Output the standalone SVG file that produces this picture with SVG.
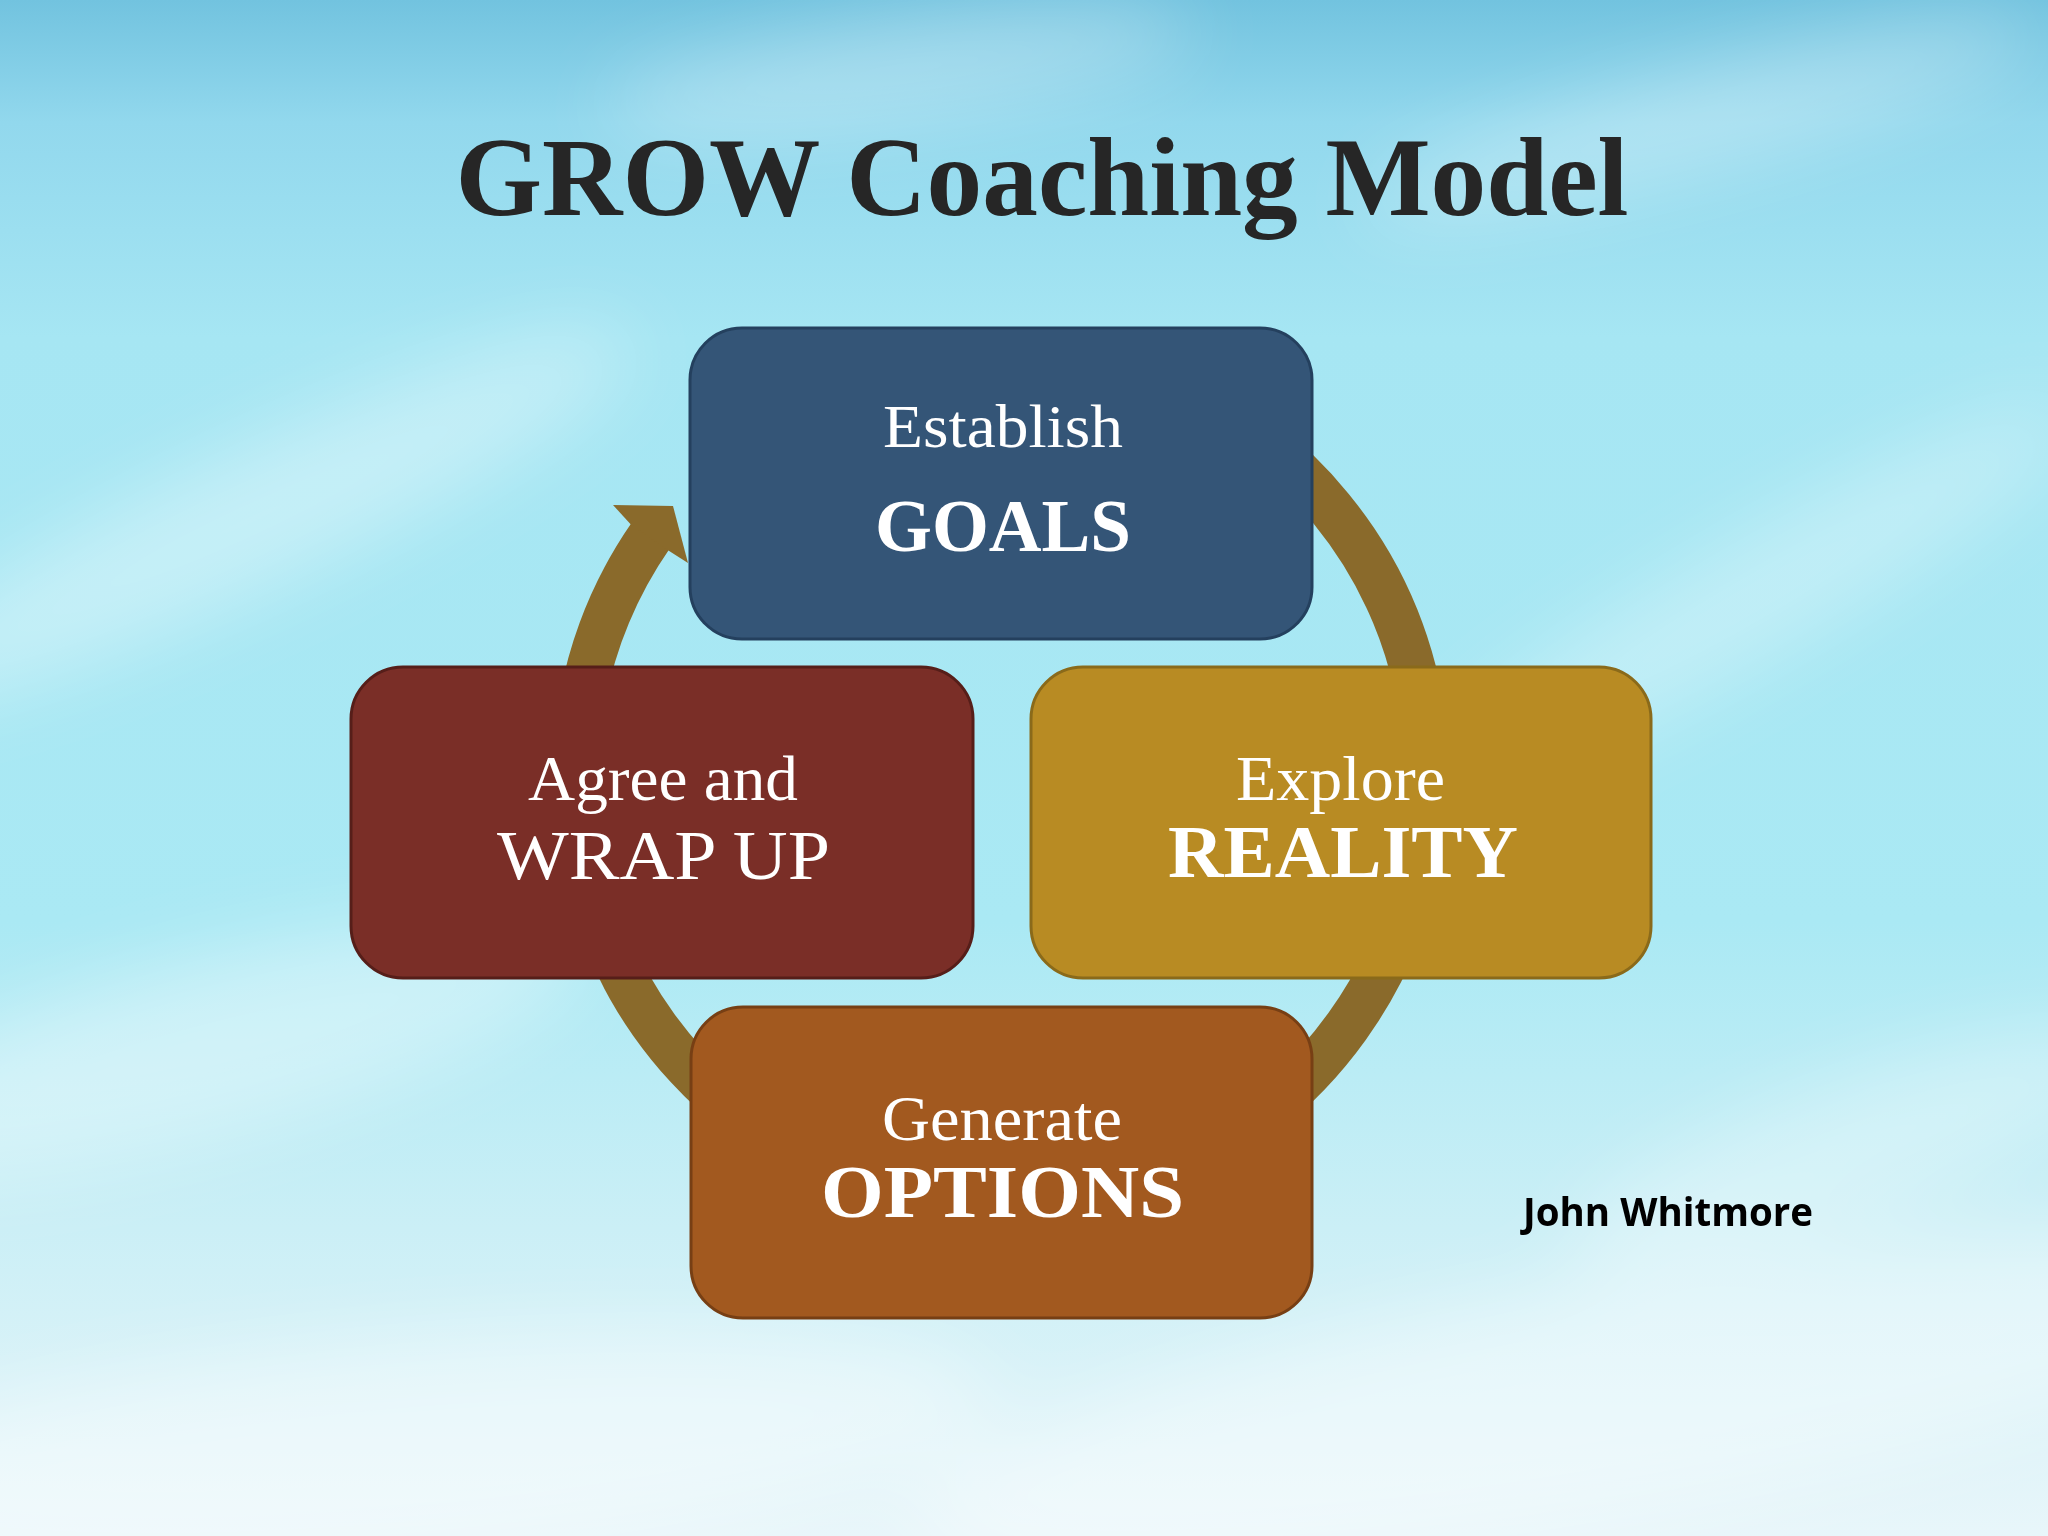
<svg xmlns="http://www.w3.org/2000/svg" width="2048" height="1536" viewBox="0 0 2048 1536">
  <defs>
    <linearGradient id="sky" x1="0" y1="0" x2="0" y2="1">
      <stop offset="0" stop-color="#72c3df"/>
      <stop offset="0.08" stop-color="#92d8ed"/>
      <stop offset="0.22" stop-color="#a6e6f3"/>
      <stop offset="0.6" stop-color="#aae9f4"/>
      <stop offset="0.8" stop-color="#cbeff6"/>
      <stop offset="1" stop-color="#e8f6fa"/>
    </linearGradient>
    <filter id="blur" x="-50%" y="-50%" width="200%" height="200%">
      <feGaussianBlur stdDeviation="40"/>
    </filter>
    <style>
      .box { stroke-width: 3; }
      .lbl { font-family: "Liberation Serif", "DejaVu Serif", serif; fill: #ffffff; text-anchor: middle; }
      .big { font-weight: bold; }
      .ring { fill: none; stroke: #8a6a2b; stroke-width: 46; }
      .head { fill: #8a6a2b; }
    </style>
  </defs>

  <!-- background -->
  <rect x="0" y="0" width="2048" height="1536" fill="url(#sky)"/>
  <g filter="url(#blur)" fill="#ffffff">
    <ellipse cx="900" cy="70" rx="300" ry="50" opacity="0.3" transform="rotate(-8 900 70)"/>
    <ellipse cx="1700" cy="120" rx="350" ry="50" opacity="0.3" transform="rotate(-15 1700 120)"/>
    <ellipse cx="250" cy="520" rx="420" ry="70" opacity="0.35" transform="rotate(-25 250 520)"/>
    <ellipse cx="1750" cy="600" rx="380" ry="60" opacity="0.3" transform="rotate(-30 1750 600)"/>
    <ellipse cx="200" cy="1050" rx="400" ry="90" opacity="0.35" transform="rotate(-15 200 1050)"/>
    <ellipse cx="1600" cy="1400" rx="700" ry="120" opacity="0.4" transform="rotate(-10 1600 1400)"/>
    <ellipse cx="400" cy="1450" rx="600" ry="110" opacity="0.4" transform="rotate(-5 400 1450)"/>
    <ellipse cx="1850" cy="1150" rx="300" ry="70" opacity="0.3" transform="rotate(-20 1850 1150)"/>
  </g>

  <!-- title -->
  <text id="title" x="1042" y="215" font-family="'Liberation Serif', 'DejaVu Serif', serif" font-size="113" font-weight="bold" fill="#262626" text-anchor="middle" textLength="1173" lengthAdjust="spacingAndGlyphs">GROW Coaching Model</text>

  <!-- connectors -->
  <g id="connectors">
    <path class="ring" d="M 1001 352 A 426 426 0 1 1 651.2 534.9"/>
    <polygon class="head" points="613,505 673,506 688,563 668.4,550.5 630.6,524.3"/>
  </g>

  <!-- nodes -->
  <g id="node-goals">
    <rect class="box" x="690" y="328" width="622" height="311" rx="52" ry="52" fill="#345577" stroke="#24405e"/>
    <text class="lbl" x="1003" y="447" font-size="62" textLength="240" lengthAdjust="spacingAndGlyphs">Establish</text>
    <text class="lbl big" x="1003" y="551" font-size="74" textLength="256" lengthAdjust="spacingAndGlyphs">GOALS</text>
  </g>

  <g id="node-wrapup">
    <rect class="box" x="351" y="667" width="622" height="311" rx="52" ry="52" fill="#7a2e27" stroke="#561e19"/>
    <text class="lbl" x="663" y="800" font-size="64" textLength="270" lengthAdjust="spacingAndGlyphs">Agree and</text>
    <text class="lbl" x="663.5" y="879" font-size="70" textLength="333" lengthAdjust="spacingAndGlyphs">WRAP UP</text>
  </g>

  <g id="node-reality">
    <rect class="box" x="1031" y="667" width="620" height="311" rx="52" ry="52" fill="#b88b23" stroke="#8a6a1a"/>
    <text class="lbl" x="1340.5" y="800" font-size="64" textLength="209" lengthAdjust="spacingAndGlyphs">Explore</text>
    <text class="lbl big" x="1343" y="877" font-size="74" textLength="350" lengthAdjust="spacingAndGlyphs">REALITY</text>
  </g>

  <g id="node-options">
    <rect class="box" x="691" y="1007" width="621" height="311" rx="52" ry="52" fill="#a2591f" stroke="#773f14"/>
    <text class="lbl" x="1002" y="1140" font-size="64" textLength="240" lengthAdjust="spacingAndGlyphs">Generate</text>
    <text class="lbl big" x="1002.5" y="1217" font-size="75" textLength="363" lengthAdjust="spacingAndGlyphs">OPTIONS</text>
  </g>

  <!-- author -->
  <text id="author" x="1523" y="1226" font-family="'Open Sans', 'Liberation Sans', sans-serif" font-size="40" font-weight="bold" fill="#000000" textLength="290" lengthAdjust="spacingAndGlyphs">John Whitmore</text>
</svg>
